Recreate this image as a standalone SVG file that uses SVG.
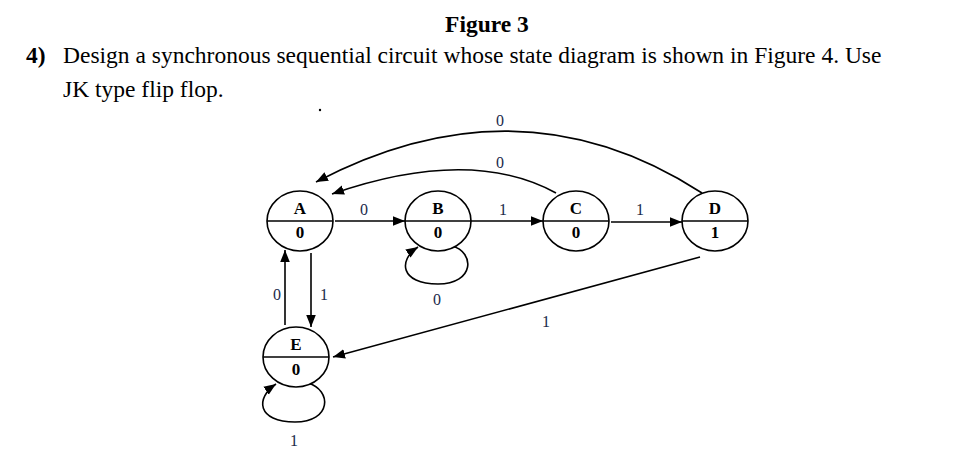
<svg xmlns="http://www.w3.org/2000/svg" width="973" height="466" viewBox="0 0 973 466">
<style>
text{font-family:"Liberation Serif",serif;fill:#000}
.t{font-size:23.5px}
.l{font-size:16px;fill:#1a2a4a}
.s{font-size:17px;font-weight:bold;text-anchor:middle}
.n{fill:#fff;stroke:#000;stroke-width:1.6}
.c{fill:none;stroke:#000;stroke-width:1.6}
</style>
<defs><marker id="b" viewBox="0 0 10 10" refX="10" refY="5" markerWidth="12" markerHeight="12" markerUnits="userSpaceOnUse" orient="auto"><path d="M0,1L10,5L0,9z"/></marker></defs>
<rect width="973" height="466" fill="#fff"/>
<text class="t" x="487" y="32" text-anchor="middle" font-weight="bold" font-size="22">Figure 3</text>
<text class="t" x="26" y="63" font-weight="bold">4)</text>
<text class="t" x="63" y="63">Design a synchronous sequential circuit whose state diagram is shown in Figure 4. Use</text>
<text class="t" x="63" y="97">JK type flip flop.</text>
<circle cx="320" cy="110" r="1.2"/>
<g id="connectors">
<path class="c" marker-end="url(#b)" d="M335,221H405"/>
<path class="c" marker-end="url(#b)" d="M471,221H543"/>
<path class="c" marker-end="url(#b)" d="M611,222H682"/>
<path class="c" marker-end="url(#b)" d="M556,193Q470,146 332,194"/>
<path class="c" marker-end="url(#b)" d="M702,193Q520,75 316,182"/>
<path class="c" marker-end="url(#b)" d="M700,257L333,357"/>
<path class="c" marker-end="url(#b)" d="M311,253V327"/>
<path class="c" marker-end="url(#b)" d="M285,325V250"/>
<path class="c" marker-end="url(#b)" d="M452,246C475,252 475,284 438,284C400,284 398,260 418,247"/>
<path class="c" marker-end="url(#b)" d="M308,383C332,390 332,422 295,422C257,422 255,398 276,384"/>
<text class="l" x="496" y="126">0</text>
<text class="l" x="496" y="168">0</text>
<text class="l" x="360" y="215">0</text>
<text class="l" x="499" y="215">1</text>
<text class="l" x="636" y="215">1</text>
<text class="l" x="433" y="305">0</text>
<text class="l" x="542" y="327">1</text>
<text class="l" x="273" y="300">0</text>
<text class="l" x="320" y="300">1</text>
<text class="l" x="290" y="446">1</text>
</g>
<g id="A"><ellipse class="n" cx="300" cy="221" rx="33" ry="30"/><path class="c" d="M267,221H333"/><text class="s" x="300" y="214">A</text><text class="s" x="300" y="238">0</text></g>
<g id="B"><ellipse class="n" cx="438" cy="221" rx="33" ry="30"/><path class="c" d="M405,221H471"/><text class="s" x="438" y="214">B</text><text class="s" x="438" y="238">0</text></g>
<g id="C"><ellipse class="n" cx="576" cy="221" rx="33" ry="30"/><path class="c" d="M543,221H609"/><text class="s" x="576" y="214">C</text><text class="s" x="576" y="238">0</text></g>
<g id="D"><ellipse class="n" cx="715" cy="221" rx="33" ry="30"/><path class="c" d="M682,221H748"/><text class="s" x="715" y="214">D</text><text class="s" x="715" y="238">1</text></g>
<g id="E"><ellipse class="n" cx="296" cy="357" rx="33" ry="30"/><path class="c" d="M263,357H329"/><text class="s" x="296" y="350">E</text><text class="s" x="296" y="375">0</text></g>
</svg>
